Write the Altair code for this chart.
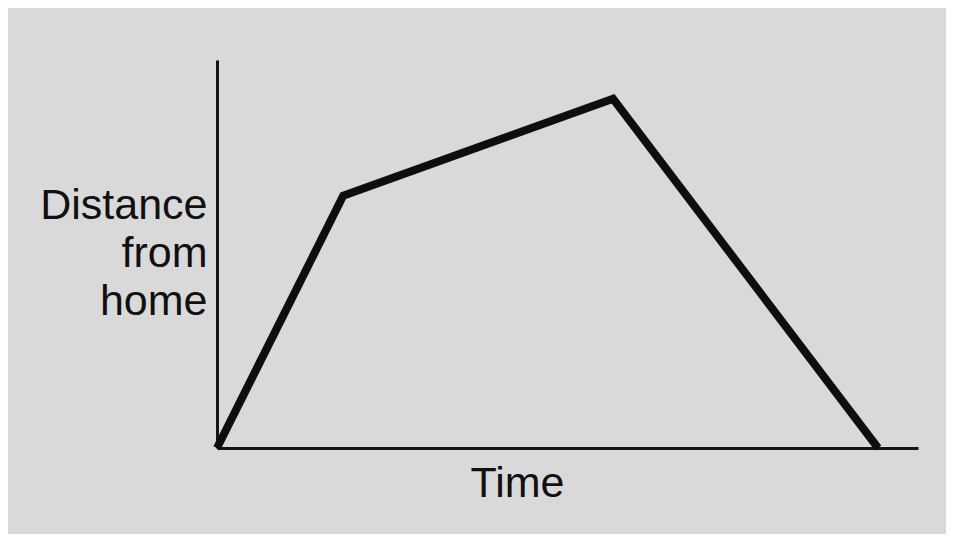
import altair as alt
import pandas as pd

# Data (arbitrary units)
time = [0, 18, 56.5, 94.3]
distance = [0, 65, 90, 0]

df = pd.DataFrame({"time": time, "distance": distance})

axis_common = dict(
    ticks=False, labels=False, grid=False,
    domainColor="#141414", domainWidth=3,
    titleFont="Liberation Sans", titleFontSize=43, titleFontWeight="normal",
    titleColor="#101010",
)

chart = alt.Chart(df).mark_line(
    color="#0e0e0e", strokeWidth=8, strokeJoin="miter"
).encode(
    x=alt.X("time:Q", scale=alt.Scale(domain=[0, 100], nice=False, zero=False),
            axis=alt.Axis(title="Time", titleAlign="center", titleBaseline="alphabetic",
                          titleX=300, titleY=48, **axis_common)),
    y=alt.Y("distance:Q", scale=alt.Scale(domain=[0, 100], nice=False),
            axis=alt.Axis(title=["Distance", "from", "home"], titleAngle=0,
                          titleAlign="right", titleBaseline="alphabetic",
                          titleX=-10, titleY=158, titleLineHeight=48, **axis_common)),
).properties(
    width=701, height=388,
    autosize=alt.AutoSizeParams(type="none"),
    padding={"left": 209, "top": 52, "right": 28, "bottom": 86},
    background="#d9d9d9",
).configure_view(stroke=None)

chart.save("out.html", embed_options={"renderer": "svg", "actions": False})
